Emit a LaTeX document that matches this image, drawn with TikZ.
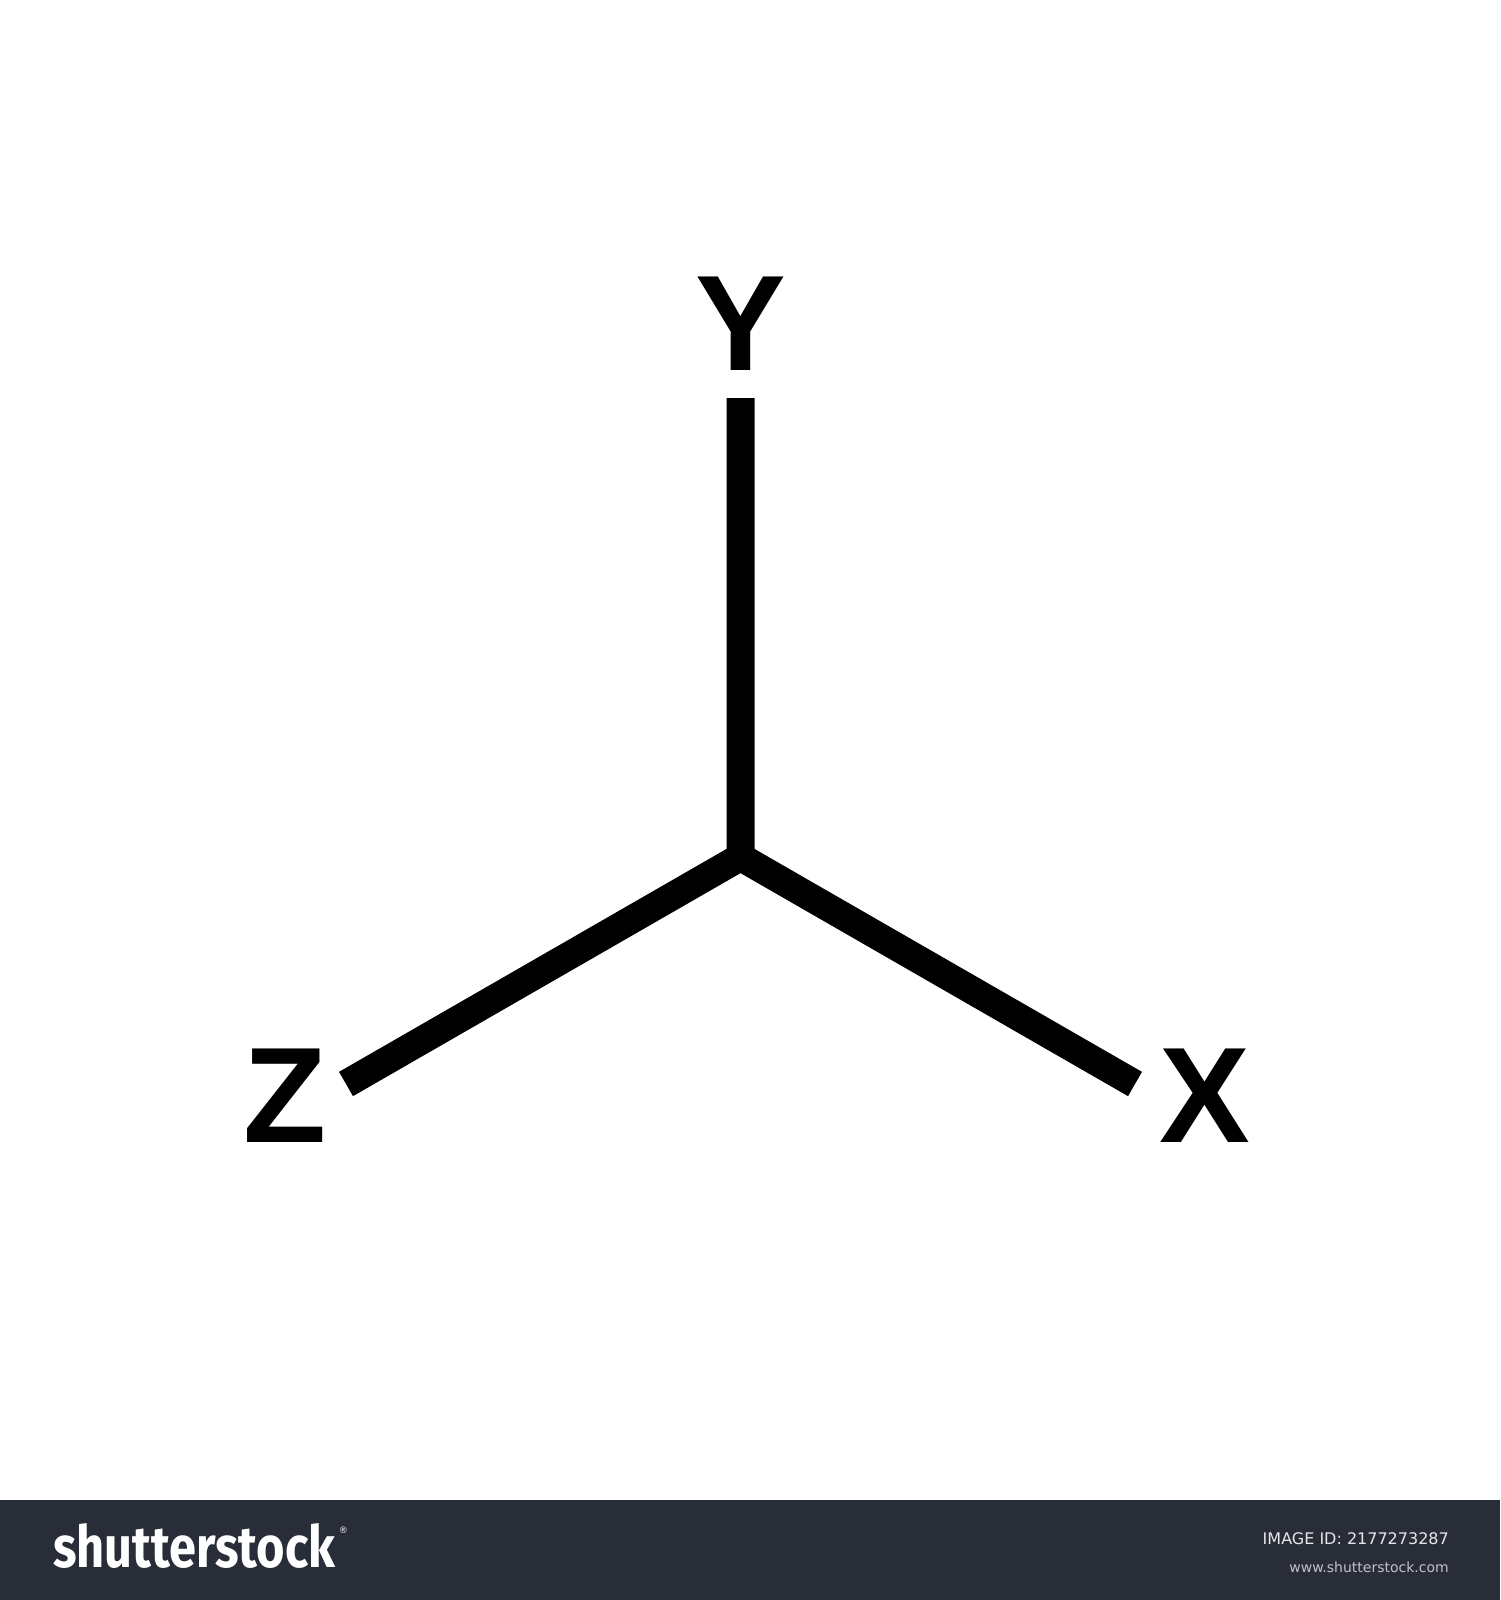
\documentclass[tikz,border=0pt]{standalone}
\usepackage{fontspec}
\usepackage{graphicx}
\usetikzlibrary{calc}
\setmainfont{Liberation Sans}
\newfontfamily\dejavu{DejaVu Sans}
\newfontfamily\logofont{Fira Sans}
\definecolor{banner}{HTML}{282D38}
\definecolor{idtext}{HTML}{E6E7EA}
\definecolor{urltext}{HTML}{BFC2C8}
\begin{document}
\begin{tikzpicture}[x=1pt,y=-1pt,
  axis/.style={line width=28pt, line cap=butt, line join=miter, black},
  axlabel/.style={font=\fontsize{136}{136}\selectfont\bfseries, inner sep=0pt, anchor=base}]
\useasboundingbox (0,0) rectangle (1500,1600);
\fill[white] (0,0) rectangle (1500,1600);
% axes
\coordinate (O) at (740.5,857);
\coordinate (Yend) at (740.5,398);
\coordinate (Zend) at (346,1084);
\coordinate (Xend) at (1135,1084);
\draw[axis] (Yend) -- (O) -- (Zend);
\draw[axis] (O) -- (Xend);
% labels
\node[axlabel] (Y) at (740.5,370) {Y};
\node[axlabel] (Z) at (285,1142) {Z};
\node[axlabel] (X) at (1205,1142) {X};
% banner
\fill[banner] (0,1500) rectangle (1500,1600);
\node[font=\logofont\fontsize{58}{58}\selectfont\bfseries, text=white, anchor=base west, inner sep=0pt] (logo) at (53,1567) {\scalebox{0.84}[1]{shutterstock}};
\node[font=\dejavu\fontsize{9}{9}\selectfont, text=white, anchor=north west, inner sep=0pt] (reg) at ($(logo.north east)+(3,4)$) {®};
\node[font=\dejavu\fontsize{16}{16}\selectfont, text=idtext, anchor=base east, inner sep=0pt] (imgid) at (1449,1544) {IMAGE ID: 2177273287};
\node[font=\dejavu\fontsize{14}{14}\selectfont, text=urltext, anchor=base east, inner sep=0pt] (url) at (1449,1572) {www.shutterstock.com};
\end{tikzpicture}
\end{document}
